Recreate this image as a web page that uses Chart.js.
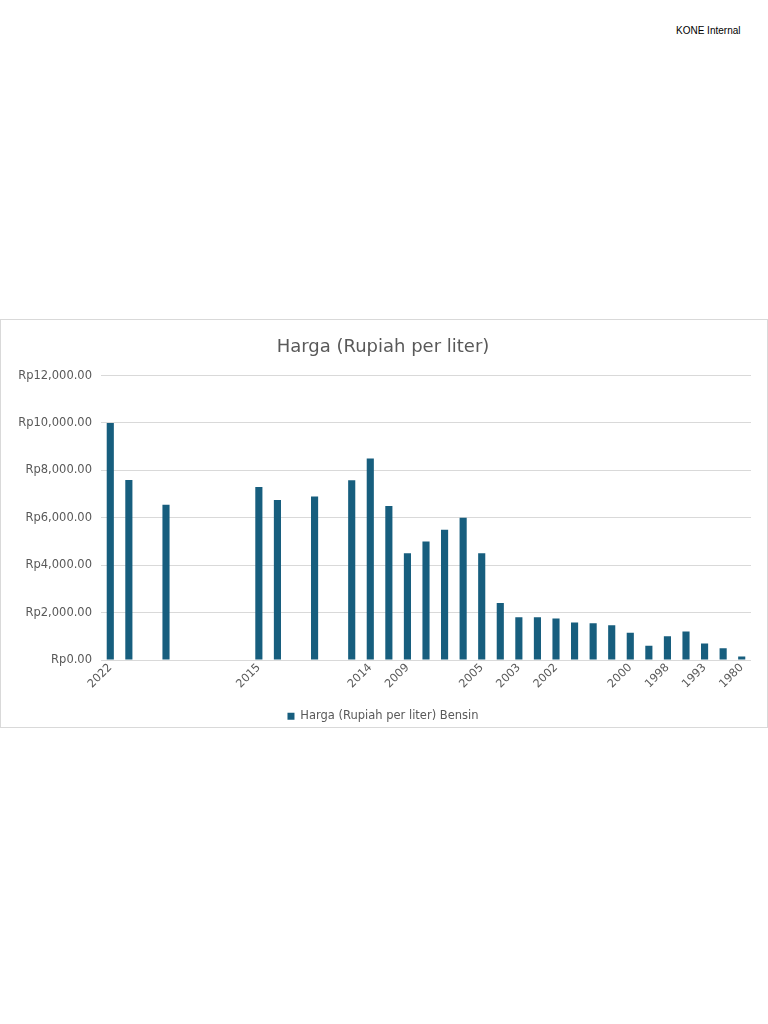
<!DOCTYPE html>
<html lang="id">
<head>
    <meta charset="UTF-8">
    <title>Harga (Rupiah per liter)</title>
    <script src="https://cdn.jsdelivr.net/npm/chart.js"></script>
    <style>
        body { margin: 0; width: 768px; height: 1024px; background: #fff; position: relative; }
        .tag { position: absolute; left: 676px; top: 25px; font: 10px "Liberation Sans", Arial, sans-serif; color: #000; }
        .box { position: absolute; left: 0; top: 319px; width: 768px; height: 409px; box-sizing: border-box; border: 1px solid #d9d9d9; z-index: 2; pointer-events: none; }
        #hargaChart { position: absolute; left: 1px; top: 320px; }
    </style>
</head>
<body>
    <div class="tag">KONE Internal</div>
    <canvas id="hargaChart" width="766" height="412"></canvas>
    <div class="box"></div>

    <script>
        // Tahun (label hanya di beberapa kategori, sisanya kosong)
        const years = ['2022', '', '', '', '', '', '', '', '2015', '', '', '', '', '', '2014',
                       '', '2009', '', '', '', '2005', '', '2003', '', '2002', '', '', '',
                       '2000', '', '1998', '', '1993', '', '1980'];
        // Harga bensin per liter (Rp); null = sel kosong
        const bensin = [10000, 7600, null, 6550, null, null, null, null, 7300, 6750, null, 6900, null, 7580, 8500,
                        6500, 4500, 5000, 5500, 6000, 4500, 2400, 1800, 1800, 1750, 1580, 1550, 1470,
                        1150, 600, 1000, 1200, 700, 500, 150];
        const yTicks = [0, 2000, 4000, 6000, 8000, 10000, 12000];

        const fmt = v => 'Rp' + v.toLocaleString('en-US', { minimumFractionDigits: 2, maximumFractionDigits: 2 });
        const txt = '#595959';
        const font = 'DejaVu Sans';

        new Chart(document.getElementById('hargaChart'), {
            type: 'bar',
            data: {
                labels: years,
                datasets: [{
                    label: 'Harga (Rupiah per liter) Bensin',
                    data: bensin,
                    backgroundColor: '#175e7e',
                    barPercentage: 0.8,
                    categoryPercentage: 0.48
                }]
            },
            options: {
                responsive: false,
                animation: false,
                layout: { padding: { left: 14, right: 16, top: 0, bottom: 0 } },
                plugins: {
                    title: {
                        display: true,
                        text: 'Harga (Rupiah per liter)',
                        color: txt,
                        font: { family: font, size: 18, weight: 'normal' },
                        padding: { top: 17, bottom: 17 }
                    },
                    legend: {
                        position: 'bottom',
                        labels: {
                            color: txt,
                            font: { family: font, size: 11.5 },
                            boxWidth: 7,
                            boxHeight: 7,
                            padding: 4
                        }
                    },
                    tooltip: { enabled: false }
                },
                scales: {
                    x: {
                        grid: { display: false, drawTicks: false },
                        border: { display: false },
                        ticks: {
                            autoSkip: false,
                            maxRotation: 45,
                            minRotation: 45,
                            color: txt,
                            font: { family: font, size: 11.3 },
                            padding: 1
                        },
                        afterFit: s => { s.height = 46.5; }
                    },
                    y: {
                        min: 0,
                        max: 12000,
                        afterBuildTicks: s => { s.ticks = yTicks.map(v => ({ value: v })); },
                        grid: { color: '#d9d9d9', drawTicks: false },
                        border: { display: false },
                        ticks: {
                            color: txt,
                            font: { family: font, size: 11.5 },
                            padding: 9,
                            callback: v => fmt(v)
                        },
                        afterFit: s => { s.width = 86; }
                    }
                }
            }
        });
    </script>
</body>
</html>
